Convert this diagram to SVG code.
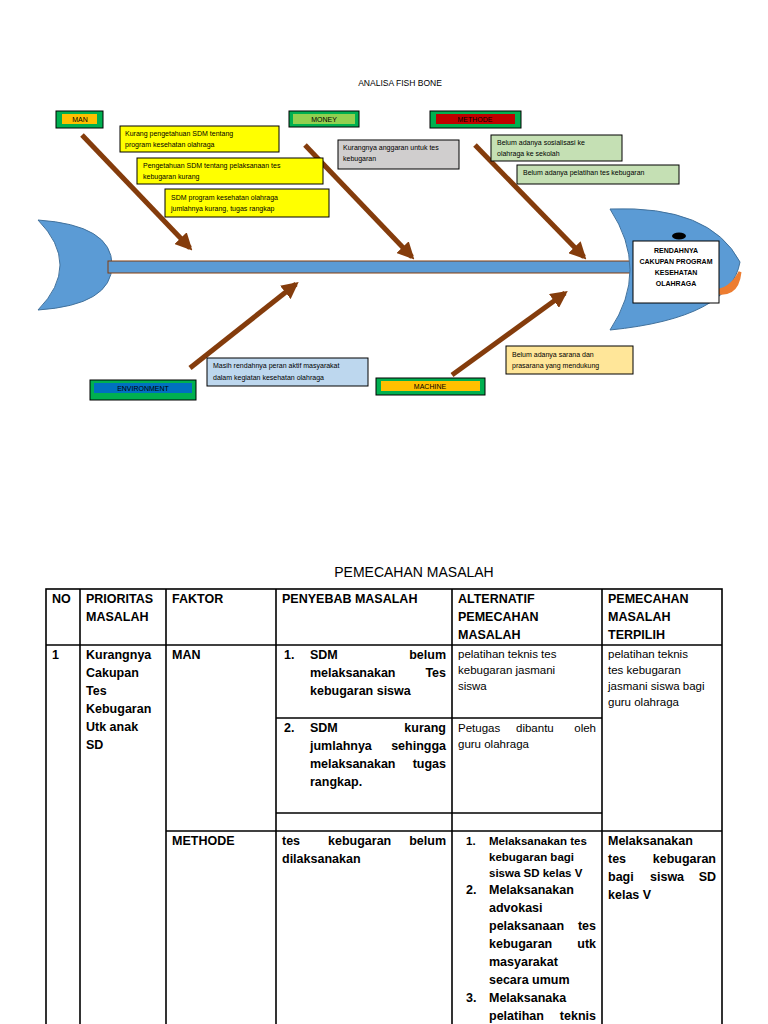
<svg xmlns="http://www.w3.org/2000/svg" width="768" height="1024" viewBox="0 0 768 1024">
<defs>
<style>
text{font-family:"Liberation Sans",Arial,sans-serif;fill:#000}
.s{font-size:7px}
.t{font-size:12.5px;font-weight:bold}
.n{font-size:11.5px}
.arr{stroke:#843c0c;stroke-width:5;fill:none}
.bx{stroke:#000;stroke-width:1}
.grid{stroke:#000;stroke-width:1.6;fill:none}
</style>
<marker id="ah" viewBox="0 0 10 10" refX="8" refY="5" markerWidth="3.4" markerHeight="3.4" orient="auto"><path d="M0,0L10,5L0,10z" fill="#843c0c"/></marker>
</defs>
<rect width="768" height="1024" fill="#fff"/>
<text x="400" y="86" text-anchor="middle" style="font-size:8.5px">ANALISA FISH BONE</text>

<g id="fish">
<path d="M38,220 Q112,225 112,265 Q112,305 38,310 Q82,265 38,220z" fill="#5b9bd5" stroke="#41719c"/>
<rect x="108" y="261" width="535" height="12" fill="#5b9bd5" stroke="#843c0c" stroke-width="1"/>
<path d="M610,209 Q710,205 740,262 Q730,318 610,330 Q650,270 610,209z" fill="#5b9bd5" stroke="#41719c"/>
<ellipse cx="679" cy="236" rx="7" ry="3.5" fill="#000"/>
<path d="M740,272 Q737,300 710,291 Q730,292 740,272z" fill="#ed7d31" stroke="#ed7d31" stroke-width="3"/>
</g>
<g id="head">
<rect x="633" y="241" width="86" height="62" fill="#fff" class="bx"/>
<text x="676" y="253" text-anchor="middle" style="font-size:7px;font-weight:bold">RENDAHNYA</text>
<text x="676" y="264" text-anchor="middle" style="font-size:7px;font-weight:bold">CAKUPAN PROGRAM</text>
<text x="676" y="275" text-anchor="middle" style="font-size:7px;font-weight:bold">KESEHATAN</text>
<text x="676" y="286" text-anchor="middle" style="font-size:7px;font-weight:bold">OLAHRAGA</text>
</g>

<g id="connectors">
<line class="arr" x1="82" y1="135" x2="190" y2="248" marker-end="url(#ah)"/>
<line class="arr" x1="305" y1="145" x2="412" y2="257" marker-end="url(#ah)"/>
<line class="arr" x1="475" y1="145" x2="584" y2="257" marker-end="url(#ah)"/>
<line class="arr" x1="190" y1="368" x2="296" y2="284" marker-end="url(#ah)"/>
<line class="arr" x1="452" y1="375" x2="565" y2="293" marker-end="url(#ah)"/>
</g>

<g id="man"><rect x="56" y="111" width="47" height="17" fill="#00b050" class="bx"/><rect x="62" y="114" width="35" height="10" fill="#ffc000"/><text x="80" y="122" class="s" text-anchor="middle">MAN</text></g>
<g id="money"><rect x="289" y="111" width="70" height="16" fill="#00b050" class="bx"/><rect x="293" y="114" width="62" height="10" fill="#92d050"/><text x="324" y="122" class="s" text-anchor="middle">MONEY</text></g>
<g id="methode"><rect x="430" y="111" width="91" height="17" fill="#00b050" class="bx"/><rect x="436" y="114" width="79" height="10" fill="#c00000"/><text x="475" y="122" class="s" text-anchor="middle">METHODE</text></g>
<g id="environment"><rect x="90" y="380" width="106" height="20" fill="#00b050" class="bx"/><rect x="94" y="383" width="98" height="10" fill="#0070c0"/><text x="143" y="391" class="s" text-anchor="middle">ENVIRONMENT</text></g>
<g id="machine"><rect x="376" y="378" width="109" height="17" fill="#00b050" class="bx"/><rect x="381" y="381" width="99" height="10" fill="#ffc000"/><text x="430" y="389" class="s" text-anchor="middle">MACHINE</text></g>

<g id="c1"><rect x="120" y="126" width="159" height="26" fill="#ffff00" class="bx"/><text x="125" y="136" class="s">Kurang pengetahuan SDM tentang</text><text x="125" y="147" class="s">program kesehatan olahraga</text></g>
<g id="c2"><rect x="137" y="158" width="186" height="26" fill="#ffff00" class="bx"/><text x="143" y="168" class="s">Pengetahuan SDM tentang pelaksanaan tes</text><text x="143" y="179" class="s">kebugaran kurang</text></g>
<g id="c3"><rect x="165" y="189" width="164" height="28" fill="#ffff00" class="bx"/><text x="171" y="200" class="s">SDM program kesehatan olahraga</text><text x="171" y="211" class="s">jumlahnya kurang, tugas rangkap</text></g>
<g id="c4"><rect x="338" y="140" width="121" height="29" fill="#d0cece" class="bx"/><text x="343" y="150" class="s">Kurangnya anggaran untuk tes</text><text x="343" y="161" class="s">kebugaran</text></g>
<g id="c5"><rect x="491" y="135" width="131" height="26" fill="#c5e0b4" class="bx"/><text x="497" y="145" class="s">Belum adanya sosialisasi ke</text><text x="497" y="156" class="s">olahraga ke sekolah</text></g>
<g id="c6"><rect x="517" y="165" width="162" height="19" fill="#c5e0b4" class="bx"/><text x="523" y="175" class="s">Belum adanya pelatihan tes kebugaran</text></g>
<g id="c7"><rect x="207" y="358" width="161" height="28" fill="#bdd7ee" class="bx"/><text x="213" y="368" class="s">Masih rendahnya peran aktif masyarakat</text><text x="213" y="380" class="s">dalam kegiatan kesehatan olahraga</text></g>
<g id="c8"><rect x="506" y="346" width="127" height="28" fill="#ffe699" class="bx"/><text x="512" y="357" class="s">Belum adanya sarana dan</text><text x="512" y="368" class="s">prasarana yang mendukung</text></g>

<g id="table">
<text x="414" y="577" text-anchor="middle" style="font-size:14px">PEMECAHAN MASALAH</text>
<rect class="grid" x="46" y="589" width="676" height="440"/>
<line class="grid" x1="46" y1="645" x2="722" y2="645"/>
<line class="grid" x1="80" y1="589" x2="80" y2="1030"/>
<line class="grid" x1="166" y1="589" x2="166" y2="1030"/>
<line class="grid" x1="276" y1="589" x2="276" y2="1030"/>
<line class="grid" x1="452" y1="589" x2="452" y2="1030"/>
<line class="grid" x1="602" y1="589" x2="602" y2="1030"/>
<line class="grid" x1="276" y1="718" x2="602" y2="718"/>
<line class="grid" x1="276" y1="813" x2="602" y2="813"/>
<line class="grid" x1="166" y1="831" x2="722" y2="831"/>
<g class="t">
<text x="52" y="603" class="t">NO</text>
<text x="86" y="603" class="t">PRIORITAS</text><text x="86" y="621" class="t">MASALAH</text>
<text x="172" y="603" class="t">FAKTOR</text>
<text x="282" y="603" class="t">PENYEBAB MASALAH</text>
<text x="458" y="603" class="t">ALTERNATIF</text><text x="458" y="621" class="t">PEMECAHAN</text><text x="458" y="639" class="t">MASALAH</text>
<text x="608" y="603" class="t">PEMECAHAN</text><text x="608" y="621" class="t">MASALAH</text><text x="608" y="639" class="t">TERPILIH</text>
<text x="52" y="659" class="t">1</text>
<text x="86" y="659" class="t">Kurangnya</text><text x="86" y="677" class="t">Cakupan</text><text x="86" y="695" class="t">Tes</text><text x="86" y="713" class="t">Kebugaran</text><text x="86" y="731" class="t">Utk anak</text><text x="86" y="749" class="t">SD</text>
<text x="172" y="659" class="t">MAN</text>
<text x="284" y="659" class="t">1.</text><text x="310" y="659" class="t">SDM</text><text x="446" y="659" class="t" text-anchor="end">belum</text>
<text x="310" y="677" class="t">melaksanakan</text><text x="446" y="677" class="t" text-anchor="end">Tes</text>
<text x="310" y="695" class="t">kebugaran siswa</text>
<text x="284" y="732" class="t">2.</text><text x="310" y="732" class="t">SDM</text><text x="446" y="732" class="t" text-anchor="end">kurang</text>
<text x="310" y="750" class="t">jumlahnya</text><text x="446" y="750" class="t" text-anchor="end">sehingga</text>
<text x="310" y="768" class="t">melaksanakan</text><text x="446" y="768" class="t" text-anchor="end">tugas</text>
<text x="310" y="786" class="t">rangkap.</text>
<text x="172" y="845" class="t">METHODE</text>
<text x="282" y="845" class="t">tes</text><text x="328" y="845" class="t">kebugaran</text><text x="446" y="845" class="t" text-anchor="end">belum</text>
<text x="282" y="863" class="t">dilaksanakan</text>
<text x="466" y="845" class="n">1.</text><text x="489" y="845" class="n">Melaksanakan tes</text><text x="489" y="861" class="n">kebugaran bagi</text><text x="489" y="877" class="n">siswa SD kelas V</text>
<text x="466" y="894" class="t">2.</text><text x="489" y="894" class="t">Melaksanakan</text><text x="489" y="912" class="t">advokasi</text>
<text x="489" y="930" class="t">pelaksanaan</text><text x="596" y="930" class="t" text-anchor="end">tes</text>
<text x="489" y="948" class="t">kebugaran</text><text x="596" y="948" class="t" text-anchor="end">utk</text>
<text x="489" y="966" class="t">masyarakat</text><text x="489" y="984" class="t">secara umum</text>
<text x="466" y="1002" class="t">3.</text><text x="489" y="1002" class="t">Melaksanaka</text>
<text x="489" y="1020" class="t">pelatihan</text><text x="596" y="1020" class="t" text-anchor="end">teknis</text>
<text x="608" y="845" class="t">Melaksanakan</text>
<text x="608" y="863" class="t">tes</text><text x="716" y="863" class="t" text-anchor="end">kebugaran</text>
<text x="608" y="881" class="t">bagi</text><text x="650" y="881" class="t">siswa</text><text x="716" y="881" class="t" text-anchor="end">SD</text>
<text x="608" y="899" class="t">kelas V</text>
</g>
<text x="458" y="658" class="n">pelatihan teknis tes</text><text x="458" y="674" class="n">kebugaran jasmani</text><text x="458" y="690" class="n">siswa</text>
<text x="458" y="732" class="n">Petugas</text><text x="516" y="732" class="n">dibantu</text><text x="596" y="732" class="n" text-anchor="end">oleh</text><text x="458" y="748" class="n">guru olahraga</text>
<text x="608" y="658" class="n">pelatihan teknis</text><text x="608" y="674" class="n">tes kebugaran</text><text x="608" y="690" class="n">jasmani siswa bagi</text><text x="608" y="706" class="n">guru olahraga</text>
</g>
</svg>
